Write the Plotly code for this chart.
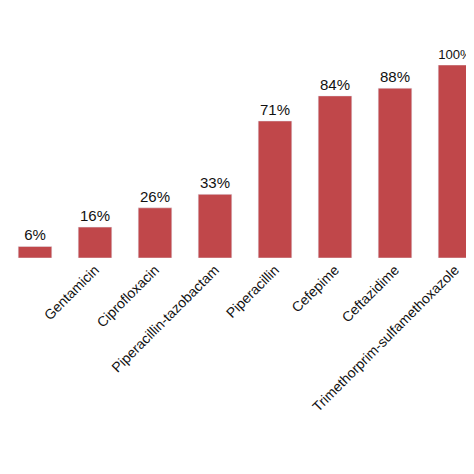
import plotly.graph_objects as go

drugs = ["Tobramicin", "Gentamicin", "Ciprofloxacin", "Piperacillin-tazobactam",
         "Piperacillin", "Cefepime", "Ceftazidime",
         "Trimethorprim-sulfamethoxazole", "Amoxicillin-clavulanate"]
resistance = [6, 16, 26, 33, 71, 84, 88, 100, 100]

fig = go.Figure(go.Bar(
    x=list(range(len(drugs))),
    y=resistance,
    marker_color="#C0474A",
    width=0.56,
    text=[f"{v}%" for v in resistance],
    textposition="outside",
    textfont=dict(size=15, color="#111"),
    cliponaxis=False,
))

fig.update_layout(
    width=474, height=474,
    margin=dict(l=0, r=0, t=57, b=224, autoexpand=False),
    paper_bgcolor="white", plot_bgcolor="white",
    showlegend=False,
    font=dict(family="Liberation Sans, Arial", color="#111"),
)
fig.update_xaxes(
    range=[-0.45, 7.45],
    tickmode="array",
    tickvals=list(range(len(drugs))),
    ticktext=drugs,
    tickangle=-45,
    tickfont=dict(size=14),
    showline=False, showgrid=False, ticks="",
    automargin=False,
)
fig.update_yaxes(range=[0, 100], visible=False, automargin=False)

fig.write_html("out.html")
